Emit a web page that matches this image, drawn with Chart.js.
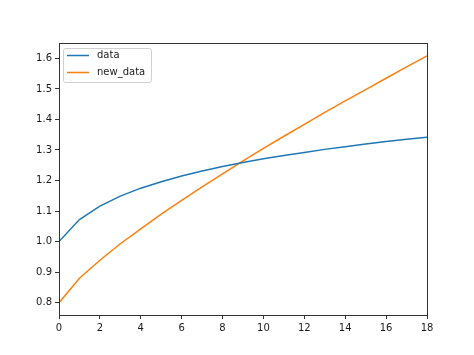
<!DOCTYPE html>
<html><head><meta charset="utf-8">
<script src="https://cdn.jsdelivr.net/npm/chart.js@4"></script>
<style>html,body{margin:0;padding:0;background:#fff}#wrap{width:474px;height:355px}</style>
</head><body><div id="wrap"><canvas id="c" width="474" height="355"></canvas></div>
<script>
const xValues = [0,1,2,3,4,5,6,7,8,9,10,11,12,13,14,15,16,17,18];
const dataValues = [1.000,1.072,1.116,1.149,1.175,1.196,1.215,1.231,1.246,1.259,1.271,1.282,1.292,1.302,1.311,1.320,1.328,1.335,1.342];
const newDataValues = [0.800,0.880,0.939,0.993,1.042,1.090,1.135,1.179,1.222,1.264,1.305,1.345,1.384,1.423,1.461,1.498,1.535,1.572,1.608];
const seriesLabels = ['data','new_data'];
const xTicks = [0,2,4,6,8,10,12,14,16,18];
const yTicks = [0.8,0.9,1.0,1.1,1.2,1.3,1.4,1.5,1.6];
const colors = ['#1f77b4','#ff7f0e'];
const FONT = 'DejaVu Sans';
const AXIS = '#333333';

const framePlugin = {
  id:'frame',
  afterDatasetsDraw(chart){
    const {ctx, chartArea:a} = chart;
    ctx.save();
    ctx.strokeStyle=AXIS; ctx.lineWidth=1;
    ctx.strokeRect(Math.round(a.left)+0.5, Math.round(a.top)+0.5, Math.round(a.right-a.left), Math.round(a.bottom-a.top));
    // legend
    const lx = Math.round(a.left)+4, ly = Math.round(a.top)+5, w = 88, h = 34;
    ctx.fillStyle='rgba(255,255,255,0.8)';
    ctx.strokeStyle='#d0d0d0'; ctx.lineWidth=1;
    ctx.beginPath();
    if (ctx.roundRect) ctx.roundRect(lx+0.5, ly+0.5, w, h, 2); else ctx.rect(lx+0.5, ly+0.5, w, h);
    ctx.fill(); ctx.stroke();
    ctx.font = '10px "'+FONT+'"';
    ctx.textBaseline='middle';
    chart.data.datasets.forEach((ds,i)=>{
      const y = ly + 7.5 + i*17;
      ctx.strokeStyle = ds.borderColor; ctx.lineWidth = 1.5;
      ctx.beginPath(); ctx.moveTo(lx+4, y); ctx.lineTo(lx+26, y); ctx.stroke();
      ctx.fillStyle='#1a1a1a';
      ctx.fillText(ds.label, lx+34, y);
    });
    ctx.restore();
  }
};

new Chart(document.getElementById('c'), {
  type:'line',
  data:{
    datasets:[
      {label:seriesLabels[0], data:xValues.map((x,i)=>({x, y:dataValues[i]})), borderColor:colors[0], backgroundColor:colors[0], borderWidth:1.5, pointRadius:0, tension:0, fill:false},
      {label:seriesLabels[1], data:xValues.map((x,i)=>({x, y:newDataValues[i]})), borderColor:colors[1], backgroundColor:colors[1], borderWidth:1.5, pointRadius:0, tension:0, fill:false}
    ]
  },
  options:{
    responsive:false, animation:false, maintainAspectRatio:false,
    layout:{padding:{left:0, top:43, right:47, bottom:0}},
    plugins:{legend:{display:false}, tooltip:{enabled:false}},
    scales:{
      x:{type:'linear', min:0, max:18,
        afterBuildTicks(s){ s.ticks = xTicks.map(v=>({value:v})); },
        afterFit(s){ s.height = 40; },
        grid:{drawOnChartArea:false, drawTicks:true, tickLength:4, color:AXIS, tickColor:AXIS},
        border:{display:true, color:AXIS, width:1},
        ticks:{color:'#1a1a1a', font:{family:FONT, size:10}, padding:3, maxRotation:0, autoSkip:false, callback:v=>String(v)}
      },
      y:{type:'linear', min:0.7596, max:1.6504,
        afterBuildTicks(s){ s.ticks = yTicks.map(v=>({value:v})); },
        afterFit(s){ s.width = 59; },
        grid:{drawOnChartArea:false, drawTicks:true, tickLength:4, color:AXIS, tickColor:AXIS},
        border:{display:true, color:AXIS, width:1},
        ticks:{color:'#1a1a1a', font:{family:FONT, size:10}, padding:3, autoSkip:false, callback:v=>Number(v).toFixed(1)}
      }
    }
  },
  plugins:[framePlugin]
});
</script>
</body></html>
